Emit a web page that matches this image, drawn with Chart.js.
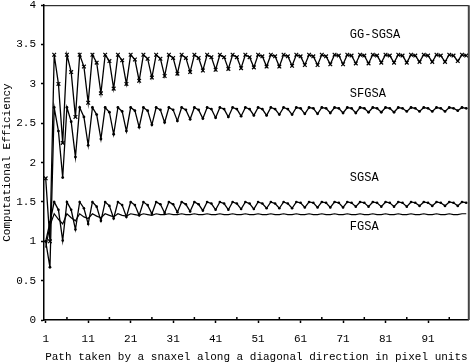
<!DOCTYPE html>
<html>
<head>
<meta charset="utf-8">
<script src="https://cdn.jsdelivr.net/npm/chart.js@4/dist/chart.umd.min.js"></script>
<style>
  html, body { margin: 0; padding: 0; background: #fff; }
  #wrap { width: 474px; height: 364px; position: relative; }
</style>
</head>
<body>
<div id="wrap"><canvas id="effChart"></canvas></div>
<script>
// values, one per pixel step (1..100)
const ggSgsa = [
  1.80, 1.00,
  3.37, 3.00, 2.25, 3.37, 3.15, 2.58, 3.37, 3.22, 2.76, 3.37, 3.27, 2.88,
  3.37, 3.29, 2.94, 3.37, 3.30, 3.00, 3.37, 3.31, 3.04, 3.37, 3.32, 3.08,
  3.37, 3.32, 3.10, 3.37, 3.33, 3.13, 3.37, 3.33, 3.15, 3.37, 3.33, 3.17,
  3.37, 3.34, 3.18, 3.37, 3.34, 3.19, 3.37, 3.34, 3.20, 3.37, 3.34, 3.21,
  3.37, 3.35, 3.22, 3.37, 3.35, 3.22, 3.37, 3.35, 3.23, 3.37, 3.35, 3.24,
  3.37, 3.35, 3.24, 3.37, 3.35, 3.25, 3.37, 3.36, 3.25, 3.37, 3.36, 3.26,
  3.37, 3.36, 3.26, 3.37, 3.36, 3.27, 3.37, 3.36, 3.27, 3.37, 3.36, 3.27,
  3.37, 3.36, 3.28, 3.37, 3.36, 3.28, 3.37, 3.36, 3.28, 3.37, 3.36, 3.29,
  3.37, 3.36
];
const sfgsa = [
  1.00, 0.67,
  2.70, 2.40, 1.81, 2.70, 2.52, 2.07, 2.70, 2.58, 2.22, 2.70, 2.61, 2.30,
  2.70, 2.64, 2.36, 2.70, 2.65, 2.40, 2.70, 2.66, 2.45, 2.70, 2.66, 2.48,
  2.70, 2.67, 2.51, 2.70, 2.67, 2.53, 2.70, 2.67, 2.55, 2.70, 2.67, 2.56,
  2.70, 2.68, 2.57, 2.70, 2.68, 2.58, 2.70, 2.68, 2.59, 2.70, 2.68, 2.60,
  2.70, 2.68, 2.60, 2.70, 2.68, 2.61, 2.70, 2.68, 2.61, 2.70, 2.69, 2.62,
  2.70, 2.69, 2.62, 2.70, 2.69, 2.63, 2.70, 2.69, 2.63, 2.70, 2.69, 2.63,
  2.70, 2.69, 2.64, 2.70, 2.69, 2.64, 2.70, 2.69, 2.64, 2.70, 2.69, 2.65,
  2.70, 2.69, 2.65, 2.70, 2.69, 2.65, 2.70, 2.69, 2.65, 2.70, 2.69, 2.66,
  2.70, 2.69
];
const sgsa = [
  1.00, 1.24,
  1.50, 1.40, 1.01, 1.50, 1.40, 1.15, 1.50, 1.42, 1.22, 1.50, 1.44, 1.26,
  1.50, 1.45, 1.29, 1.50, 1.46, 1.31, 1.50, 1.46, 1.33, 1.50, 1.46, 1.35,
  1.50, 1.47, 1.36, 1.50, 1.47, 1.37, 1.50, 1.47, 1.38, 1.50, 1.47, 1.39,
  1.50, 1.48, 1.40, 1.50, 1.48, 1.40, 1.50, 1.48, 1.41, 1.50, 1.48, 1.41,
  1.50, 1.48, 1.42, 1.50, 1.48, 1.42, 1.50, 1.48, 1.42, 1.50, 1.49, 1.43,
  1.50, 1.49, 1.43, 1.50, 1.49, 1.43, 1.50, 1.49, 1.43, 1.50, 1.49, 1.44,
  1.50, 1.49, 1.44, 1.50, 1.49, 1.44, 1.50, 1.49, 1.44, 1.50, 1.49, 1.44,
  1.50, 1.49, 1.45, 1.50, 1.49, 1.45, 1.50, 1.49, 1.45, 1.50, 1.49, 1.45,
  1.50, 1.49
];
const fgsa = [
  0.92, 1.20,
  1.35, 1.28, 1.22, 1.35, 1.30, 1.26, 1.35, 1.31, 1.29, 1.35, 1.32, 1.30,
  1.35, 1.33, 1.31, 1.35, 1.33, 1.32, 1.35, 1.34, 1.33, 1.35, 1.34, 1.33,
  1.35, 1.34, 1.34, 1.35, 1.34, 1.34, 1.35, 1.34, 1.34, 1.35, 1.34, 1.34,
  1.35, 1.34, 1.34, 1.35, 1.34, 1.34, 1.35, 1.34, 1.34, 1.35, 1.34, 1.34,
  1.35, 1.34, 1.34, 1.35, 1.34, 1.34, 1.35, 1.34, 1.34, 1.35, 1.34, 1.34,
  1.35, 1.34, 1.34, 1.35, 1.34, 1.34, 1.35, 1.34, 1.34, 1.35, 1.34, 1.34,
  1.35, 1.34, 1.34, 1.35, 1.34, 1.34, 1.35, 1.34, 1.34, 1.35, 1.34, 1.34,
  1.35, 1.34, 1.34, 1.35, 1.34, 1.34, 1.35, 1.34, 1.34, 1.35, 1.34, 1.34,
  1.35, 1.35
];
const xTickLabels = [1, 11, 21, 31, 41, 51, 61, 71, 81, 91];
const xMinorTicks = [6, 16, 26, 36, 46, 56, 66, 76, 86, 96];
const yTickValues = [0, 0.5, 1, 1.5, 2, 2.5, 3, 3.5, 4];
const seriesNames = ['GG-SGSA', 'SFGSA', 'SGSA', 'FGSA'];

const steps = ggSgsa.map((_, i) => i + 1);
const toPoints = arr => arr.map((v, i) => ({ x: steps[i], y: v }));

const FONT = "'Liberation Mono', 'DejaVu Sans Mono', monospace";
Chart.defaults.font.family = FONT;
Chart.defaults.font.size = 11;
Chart.defaults.color = '#000';

// where the series names sit, in data units
const nameSpots = [
  { x: 72.6, y: 3.62 },
  { x: 72.6, y: 2.87 },
  { x: 72.6, y: 1.81 },
  { x: 72.6, y: 1.18 }
];

const decor = {
  id: 'decor',
  afterDraw(chart) {
    const { ctx, chartArea: a, scales: { x, y } } = chart;
    ctx.save();
    // frame top + right
    ctx.strokeStyle = '#000';
    ctx.lineWidth = 1;
    ctx.beginPath();
    ctx.moveTo(a.left, a.top + 0.5);
    ctx.lineTo(a.right, a.top + 0.5);
    ctx.stroke();
    ctx.strokeStyle = '#444';
    ctx.lineWidth = 2;
    ctx.beginPath();
    ctx.moveTo(a.right, a.top);
    ctx.lineTo(a.right, a.bottom);
    ctx.stroke();
    // minor ticks point into the plot
    ctx.strokeStyle = '#000';
    ctx.lineWidth = 1.5;
    xMinorTicks.forEach(v => {
      const px = x.getPixelForValue(v);
      ctx.beginPath();
      ctx.moveTo(px, a.bottom);
      ctx.lineTo(px, a.bottom - 3);
      ctx.stroke();
    });
    // series names
    ctx.fillStyle = '#000';
    ctx.font = '12px ' + FONT;
    ctx.textBaseline = 'middle';
    ctx.textAlign = 'left';
    seriesNames.forEach((n, i) => {
      ctx.fillText(n, x.getPixelForValue(nameSpots[i].x), y.getPixelForValue(nameSpots[i].y));
    });
    ctx.restore();
  }
};

new Chart(document.getElementById('effChart'), {
  type: 'line',
  data: {
    datasets: [
      { label: seriesNames[0], data: toPoints(ggSgsa), borderColor: '#000', borderWidth: 1.3,
        pointStyle: 'crossRot', pointRadius: 2.6, pointBorderWidth: 1.2, pointBorderColor: '#000', pointBackgroundColor: '#000' },
      { label: seriesNames[1], data: toPoints(sfgsa), borderColor: '#000', borderWidth: 1.3,
        pointStyle: 'circle', pointRadius: 1.4, pointBorderWidth: 0, pointBackgroundColor: '#000' },
      { label: seriesNames[2], data: toPoints(sgsa), borderColor: '#000', borderWidth: 1.3,
        pointStyle: 'circle', pointRadius: 1.3, pointBorderWidth: 0, pointBackgroundColor: '#000' },
      { label: seriesNames[3], data: toPoints(fgsa), borderColor: '#000', borderWidth: 1.2,
        pointRadius: 0 }
    ]
  },
  options: {
    responsive: true,
    maintainAspectRatio: false,
    animation: false,
    layout: { padding: { top: 4, right: 2, left: 0, bottom: 0 } },
    plugins: { legend: { display: false }, tooltip: { enabled: false } },
    elements: { line: { tension: 0 } },
    scales: {
      x: {
        type: 'linear',
        min: 0.6,
        max: 100.6,
        afterBuildTicks: s => { s.ticks = xTickLabels.map(v => ({ value: v })); },
        afterFit: s => { s.height = 44; s.paddingLeft = 0; s.paddingRight = 0; },
        ticks: { padding: 9, maxRotation: 0, autoSkip: false, callback: v => String(v) },
        grid: { drawOnChartArea: false, tickLength: 3, color: '#000', tickWidth: 1.5 },
        border: { display: true, color: '#000', width: 1.5 },
        title: { display: true, text: 'Path taken by a snaxel along a diagonal direction in pixel units',
                 padding: { top: 4, bottom: 0 }, font: { size: 11 } }
      },
      y: {
        min: 0,
        max: 4,
        afterBuildTicks: s => { s.ticks = yTickValues.map(v => ({ value: v })); },
        afterFit: s => { s.width = 44; s.paddingTop = 0; s.paddingBottom = 0; },
        ticks: { padding: 5, callback: v => String(v) },
        grid: { drawOnChartArea: false, tickLength: 3, color: '#000', tickWidth: 1.5 },
        border: { display: true, color: '#000', width: 1.5 },
        title: { display: true, text: 'Computational Efficiency', padding: { top: 0, bottom: 0 }, font: { size: 11 } }
      }
    }
  },
  plugins: [decor]
});
</script>
</body>
</html>
